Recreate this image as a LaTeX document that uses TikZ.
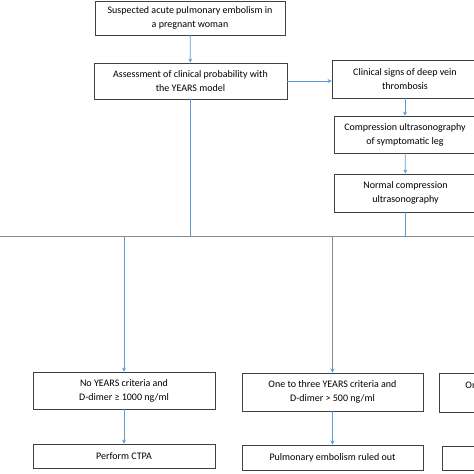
\documentclass[tikz,border=0pt]{standalone}
\usepackage{fontspec}
\setmainfont{Carlito}
\usepackage{tikz}
\usetikzlibrary{arrows.meta}
\definecolor{boxline}{RGB}{64,64,64}
\definecolor{arrowblue}{RGB}{91,155,213}
\definecolor{busgray}{RGB}{140,140,140}

\tikzset{
  flowbox/.style={draw=boxline, line width=0.9pt, rectangle, align=center,
    inner sep=0pt, font=\fontsize{10}{14}\selectfont},
  flow/.style={-{Stealth[length=4pt,width=4pt]}, line width=0.8pt, arrowblue},
  busline/.style={line width=1pt, busgray},
}

\begin{document}
\begin{tikzpicture}[x=1pt, y=-1pt]
\useasboundingbox (0,0) rectangle (474,474);
% top of the chart
\node[flowbox, minimum width=190pt, minimum height=34pt] (susp) at (190,18) {Suspected acute pulmonary embolism in\\a pregnant woman};
\node[flowbox, minimum width=193pt, minimum height=36pt] (years) at (190.5,81) {Assessment of clinical probability with\\the YEARS model};
% deep vein branch
\node[flowbox, minimum width=146pt, minimum height=38pt] (dvt) at (405,79) {Clinical signs of deep vein\\thrombosis};
\node[flowbox, minimum width=142pt, minimum height=37pt] (cus) at (405,134.5) {Compression ultrasonography\\of symptomatic leg};
\node[flowbox, minimum width=142pt, minimum height=38pt] (normal) at (405.5,193) {Normal compression\\ultrasonography};
% bus line
\coordinate (busL) at (0,236);
\coordinate (busR) at (474,236);
% bottom row
\node[flowbox, minimum width=182pt, minimum height=37pt] (none) at (124,390.5) {No YEARS criteria and\\D-dimer ≥ 1000 ng/ml};
\node[flowbox, minimum width=182pt, minimum height=24pt] (ctpa) at (124,456) {Perform CTPA};
\node[flowbox, minimum width=181pt, minimum height=38pt] (some) at (332.5,392) {One to three YEARS criteria and\\D-dimer > 500 ng/ml};
\node[flowbox, minimum width=181pt, minimum height=25pt] (ruled) at (332.5,457.5) {Pulmonary embolism ruled out};
\node[flowbox, minimum width=181pt, minimum height=39pt] (other) at (529.5,392.5) {On\phantom{e to three YEARS criteria and}\\\phantom{D-dimer}};
\node[flowbox, minimum width=181pt, minimum height=24pt] (otherout) at (532.5,458) {};
% connectors
\draw[flow] (susp) -- (years);
\draw[flow] (years.east) -- (years.east -| dvt.west);
\draw[flow] (dvt) -- (cus);
\draw[flow] (cus) -- (normal);
\draw[busline] (busL) -- (busR);
\draw[line width=0.8pt, arrowblue] (years.south) -- (years.south |- busL);
\draw[line width=0.8pt, arrowblue] (normal.south) -- (normal.south |- busL);
\draw[flow] (none.north |- busL) -- (none.north);
\draw[-{Stealth[length=4pt,width=4pt,color=arrowblue]}, line width=0.8pt, busgray] (some.north |- busL) -- (some.north);
\draw[flow] (none) -- (ctpa);
\draw[flow] (some) -- (ruled);
\end{tikzpicture}
\end{document}
